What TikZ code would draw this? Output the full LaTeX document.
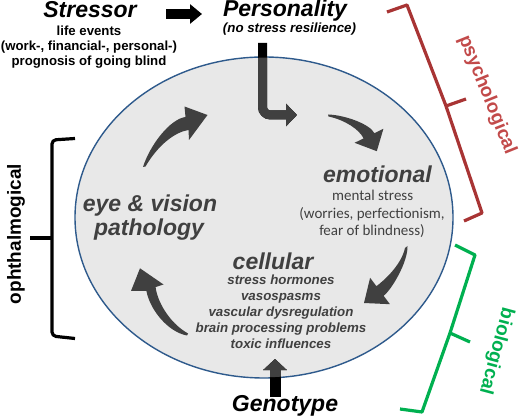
\documentclass[tikz,border=0pt]{standalone}
\usepackage{fontspec}
\setmainfont{Liberation Sans}
\newfontfamily\carlitofont{Carlito}
\usetikzlibrary{arrows.meta,shapes.geometric}
\definecolor{dg}{HTML}{404040}
\definecolor{ellfill}{HTML}{E8E8E8}
\definecolor{ellline}{HTML}{2E5A8C}
\definecolor{psy}{HTML}{A83434}
\definecolor{psytext}{HTML}{C24A4A}
\definecolor{bio}{HTML}{00B050}
\tikzset{
  bigbi/.style={font=\fontsize{23}{26}\selectfont\bfseries\itshape, inner sep=0pt, anchor=base},
  smb/.style={font=\fontsize{13.2}{15}\selectfont\bfseries, inner sep=0pt, anchor=base},
  smbi/.style={font=\fontsize{13.3}{15}\selectfont\bfseries\itshape, inner sep=0pt, anchor=base},
  calt/.style={font=\fontsize{15}{17}\selectfont\carlitofont, text=dg, inner sep=0pt, anchor=base},
  side/.style={font=\fontsize{19}{21}\selectfont\bfseries, inner sep=0pt},
  blockarrow/.style={line width=10pt, -{Triangle[width=19pt,length=12pt]}},
  curvarrow/.style={fill=dg},
  bracketline/.style={line width=3.2pt, line join=round}
}
\begin{document}
\begin{tikzpicture}[x=1pt,y=-1pt]
\useasboundingbox (0,0) rectangle (519,419);
% ellipse
\node[ellipse, draw=ellline, fill=ellfill, line width=1.4pt, minimum width=378pt, minimum height=321pt, inner sep=0pt] (cyc) at (264,217.5) {};

% outside texts
\node[bigbi] (stressor) at (90,17.5) {Stressor};
\node[bigbi] (personality) at (285,17) {Personality};
\node[smb] (life1) at (89,35.5) {life events};
\node[smb] (life2) at (89,51) {(work-, financial-, personal-)};
\node[smb] (life3) at (89,66) {prognosis of going blind};
\node[smbi] (resil) at (289.5,33) {(no stress resilience)};
\node[bigbi] (geno) at (285,411.5) {Genotype};

% Stressor -> Personality
\coordinate (sa) at (166,14);
\coordinate (sb) at (202,14);
\draw[blockarrow] (sa) -- (sb);

% arrows crossing the ellipse: black outside, gray inside
\coordinate (pa) at (262.5,43);
\coordinate (pc) at (262.5,115);
\coordinate (pb) at (297,115);
\coordinate (ga) at (275,397);
\coordinate (gb) at (275,359);
\draw[line width=9pt, rounded corners=8pt, -{Triangle[width=22pt,length=11pt]}] (pa) -- (pc) -- (pb);
\draw[line width=11pt, -{Triangle[width=23pt,length=11pt]}] (ga) -- (gb);
\begin{scope}
\clip (264,217.5) ellipse [x radius=188.3, y radius=159.8];
\draw[dg, line width=9pt, rounded corners=8pt, -{Triangle[width=22pt,length=11pt]}] (pa) -- (pc) -- (pb);
\draw[dg, line width=11pt, -{Triangle[width=23pt,length=11pt]}] (ga) -- (gb);
\end{scope}

% curved arrows
\fill[curvarrow] (328,114.5) .. controls (345,115) and (370,124.2) .. (374.4,133.2) -- (383.4,128.8) -- (376.8,151.2) -- (354.6,142.8) -- (363.6,138.4) .. controls (359.2,129.4) and (345,120) .. (328.5,116.5) -- cycle;
\fill[curvarrow] (407.5,246) .. controls (408,262) and (391.6,289.8) .. (383.6,295.8) -- (389.9,304.2) -- (364,303) -- (370.1,277.8) -- (376.4,286.2) .. controls (382.8,281.4) and (401,266) .. (405,248) -- cycle;
\fill[curvarrow] (187,335.5) .. controls (168,332) and (150,310) .. (146.4,290.9) -- (131,291) -- (140,268.3) -- (163.5,284.5) -- (155.6,287.1) .. controls (157,300) and (168,322) .. (188,333.5) -- cycle;
\fill[curvarrow] (143,167) .. controls (150,145) and (170,119) .. (185.5,117) -- (184.5,106.5) -- (207.5,115) -- (189,140) -- (188.5,130) .. controls (175,132) and (158,145) .. (145.5,166.5) -- cycle;

% inside texts
\node[bigbi, text=dg] (emo) at (377.5,183) {emotional};
\node[calt] (emo1) at (372.7,201) {mental stress};
\node[calt] (emo2) at (372,218.5) {(worries, perfectionism,};
\node[calt] (emo3) at (372,236) {fear of blindness)};
\node[bigbi, text=dg] (cell) at (273,270) {cellular};
\node[smbi, text=dg] (c1) at (281,284.5) {stress hormones};
\node[smbi, text=dg] (c2) at (281,300.5) {vasospasms};
\node[smbi, text=dg] (c3) at (281,316.5) {vascular dysregulation};
\node[smbi, text=dg] (c4) at (281,332.5) {brain processing problems};
\node[smbi, text=dg] (c5) at (281,348.5) {toxic influences};
\node[bigbi, text=dg] (eye1) at (150,212) {eye \& vision};
\node[bigbi, text=dg] (eye2) at (149,236) {pathology};

% brackets
\draw[bracketline, psy] (387,12) -- (407,5) -- (446,106) -- (482,213) -- (464,221);
\draw[bracketline, psy] (446,106) -- (466,99);
\draw[bracketline, bio] (455,245) -- (475,255) -- (450,333) -- (422,412) -- (400,409);
\draw[bracketline, bio] (450,333) -- (470,342);
\draw[bracketline, black, rounded corners=4pt] (75,138.5) -- (52,140) -- (52,336) -- (75,338.5);
\draw[bracketline, black] (30,238) -- (52,238);

% side labels
\node[side, text=psytext, rotate=-68] (psylab) at (487,95) {psychological};
\node[side, text=bio, rotate=-105] (biolab) at (496,351) {biological};
\node[side, text=black, rotate=90] (ophlab) at (16,234) {ophthalmogical};
\end{tikzpicture}
\end{document}
